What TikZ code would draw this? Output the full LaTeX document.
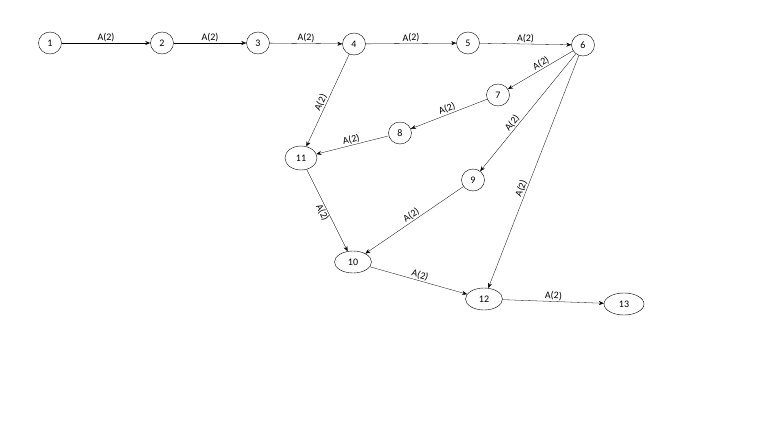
\documentclass[tikz,border=0pt]{standalone}
\usepackage{fontspec}
\setmainfont{Carlito}
\usetikzlibrary{arrows.meta,shapes.geometric}
\begin{document}
\begin{tikzpicture}[x=1pt,y=-1pt,
  nd/.style={draw,ellipse,inner sep=0pt,minimum width=23pt,minimum height=22pt,font=\normalsize},
  wd/.style={nd,minimum width=37pt},
  ed/.style={draw,line width=0.3pt,-{Stealth[length=5pt,width=4pt]}},
  lb/.style={font=\normalsize,sloped,above,inner sep=1pt}]
\useasboundingbox (0,0) rectangle (768,433);
\node[nd] (n1) at (50,43) {1};
\node[nd] (n2) at (162,43) {2};
\node[nd] (n3) at (258,43) {3};
\node[nd] (n4) at (354,44) {4};
\node[nd] (n5) at (468,43) {5};
\node[nd] (n6) at (583,45) {6};
\node[nd] (n7) at (498,95) {7};
\node[nd] (n8) at (400,133) {8};
\node[nd,minimum width=32pt,minimum height=24pt] (n11) at (301,158) {11};
\node[nd] (n9) at (473,180) {9};
\node[wd] (n10) at (353,262) {10};
\node[wd] (n12) at (484,299) {12};
\node[wd,minimum width=40pt] (n13) at (624,304) {13};
\draw[ed,line width=0.8pt] (n1) -- node[lb]{A(2)} (n2);
\draw[ed] (n2) -- node[lb]{A(2)} (n3);
\draw[ed] (n3) -- node[lb]{A(2)} (n4);
\draw[ed] (n4) -- node[lb]{A(2)} (n5);
\draw[ed] (n5) -- node[lb]{A(2)} (n6);
\draw[ed] (n4) -- node[lb,pos=0.55]{A(2)} (n11);
\draw[ed] (n6) -- node[lb,pos=0.45]{A(2)} (n7);
\draw[ed] (n7) -- node[lb]{A(2)} (n8);
\draw[ed] (n8) -- node[lb]{A(2)} (n11);
\draw[ed] (n6) -- node[lb,pos=0.62]{A(2)} (n9);
\draw[ed] (n6) -- node[lb,pos=0.58]{A(2)} (n12);
\draw[ed] (n11) -- node[lb,below]{A(2)} (n10);
\draw[ed] (n9) -- node[lb]{A(2)} (n10);
\draw[ed] (n10) -- node[lb]{A(2)} (n12);
\draw[ed] (n12) -- node[lb]{A(2)} (n13);
\end{tikzpicture}
\end{document}
